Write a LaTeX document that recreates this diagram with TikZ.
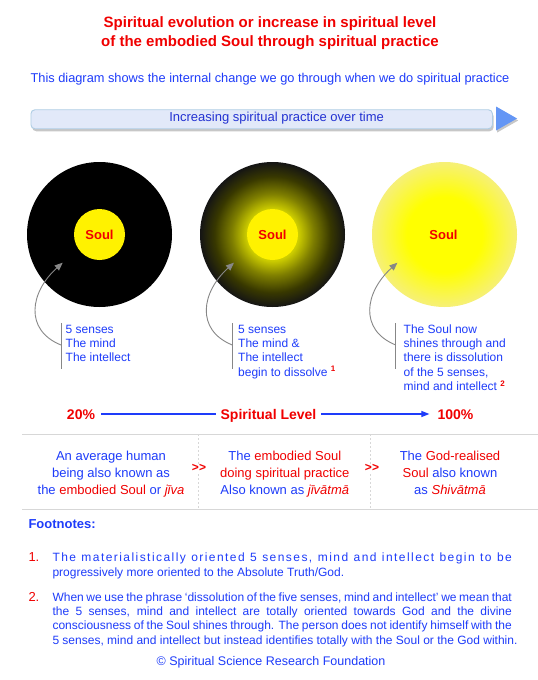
\documentclass[tikz,border=0pt]{standalone}
\usepackage{fontspec}
\setmainfont{Liberation Sans}
\usetikzlibrary{shadows,arrows.meta}
\definecolor{tblue}{RGB}{30,60,250}
\definecolor{tred}{RGB}{240,0,0}
\definecolor{bartxt}{RGB}{35,50,210}
\definecolor{barfill}{RGB}{226,233,249}
\definecolor{barline}{RGB}{175,205,228}
\definecolor{trifill}{RGB}{100,150,245}
\definecolor{arrgray}{RGB}{135,135,135}
\definecolor{edgethree}{RGB}{246,240,120}
\definecolor{rulegray}{RGB}{215,215,215}
\pgfdeclareradialshading{dimsoul}{\pgfpoint{0bp}{0bp}}{color(0bp)=(yellow); color(9bp)=(yellow!80!black); color(14bp)=(yellow!50!black); color(20bp)=(yellow!22!black); color(25bp)=(black!92); color(50bp)=(black!92)}
\pgfdeclareradialshading{brightsoul}{\pgfpoint{0bp}{0bp}}{color(0bp)=(yellow); color(13bp)=(yellow); color(25bp)=(edgethree); color(50bp)=(edgethree)}
\tikzset{
  titletext/.style={text=tred, align=center, inner sep=0pt, font=\fontsize{15}{18.4}\selectfont\bfseries},
  subtext/.style={text=tblue, inner sep=0pt, font=\fontsize{12.8}{15}\selectfont},
  barbox/.style={draw=barline, line width=0.9pt, fill=barfill, rounded corners=4pt, inner sep=0pt,
     drop shadow={shadow xshift=1.2pt, shadow yshift=-2.5pt, fill=black, opacity=0.22}},
  bartext/.style={text=bartxt, inner sep=0pt, font=\fontsize{13}{15}\selectfont},
  ring/.style={circle, minimum size=145pt, inner sep=0pt},
  core/.style={circle, fill=yellow, minimum size=51pt, inner sep=0pt, text=tred, font=\fontsize{13}{15}\selectfont\bfseries},
  soultext/.style={text=tred, inner sep=0pt, font=\fontsize{13}{15}\selectfont\bfseries},
  ctext/.style={text=tblue, align=left, inner sep=0pt, anchor=north west, font=\fontsize{12}{14.3}\selectfont},
  vline/.style={draw=arrgray, line width=0.9pt},
  garrow/.style={draw=arrgray, line width=0.9pt, -{Triangle[length=8pt,width=6.5pt]}},
  lvl/.style={text=tred, inner ysep=0pt, text height=10pt, text depth=0pt, font=\fontsize{14}{16}\selectfont\bfseries},
  levelline/.style={draw=tblue, line width=1.1pt},
  hrule/.style={draw=rulegray, line width=1.2pt},
  drule/.style={draw=rulegray, line width=0.8pt, dash pattern=on 2pt off 2pt},
  chev/.style={text=tred, fill=white, inner sep=1pt, font=\fontsize{12}{14}\selectfont\bfseries},
  cell/.style={text=tblue, align=center, inner sep=0pt, anchor=north, font=\fontsize{13}{17.2}\selectfont},
  fnhead/.style={text=tblue, inner sep=0pt, anchor=base west, font=\fontsize{13}{15}\selectfont\bfseries},
  fnnum/.style={text=tred, inner sep=0pt, anchor=base west, font=\fontsize{13}{15}\selectfont},
  fnone/.style={text=tblue, align=left, inner sep=0pt, anchor=north west, font=\fontsize{12}{15}\selectfont},
  fntwo/.style={text=tblue, align=left, inner sep=0pt, anchor=north west, font=\fontsize{12}{14.1}\selectfont},
  copytext/.style={text=tblue, inner sep=0pt, font=\fontsize{12.5}{15}\selectfont},
}
\begin{document}
\begin{tikzpicture}[x=1pt,y=-1pt]
\fill[white] (0,0) rectangle (538,680);
\useasboundingbox (0,0) rectangle (538,680);

% title and subtitle
\node[titletext] (title) at (270,33) {Spiritual evolution or increase in spiritual level\\of the embodied Soul through spiritual practice};
\node[subtext] (sub) at (270,79.5) {This diagram shows the internal change we go through when we do spiritual practice};

% time bar
\node[barbox, anchor=north west, minimum width=461.5pt, minimum height=19pt] (bar) at (30.5,109.3) {};
\node[bartext] (bartxt) at (276.6,118.5) {Increasing spiritual practice over time};
\fill[trifill, drop shadow={shadow xshift=1.2pt, shadow yshift=-2pt, fill=black, opacity=0.22}]
  (496,106.5) -- (517,118.5) -- (496,130.5) -- cycle;

% circles
\node[ring, fill=black] (c1) at (99.5,234.5) {};
\node[core] (s1) at (c1) {Soul};
\node[ring, shading=dimsoul] (c2) at (272.5,234.5) {};
\node[core] (s2) at (c2) {Soul};
\node[ring, shading=brightsoul] (c3) at (444.5,234.5) {};
\node[soultext] (s3) at (443.5,234.5) {Soul};

% labels under circles
\node[ctext] (t1) at (65.5,323) {\strut 5 senses\\The mind\\The intellect};
\node[ctext] (t2) at (238,323) {\strut 5 senses\\The mind \&\\The intellect\\begin to dissolve \textsuperscript{\textcolor{tred}{\bfseries 1}}};
\node[ctext] (t3) at (403.5,323) {\strut The Soul now\\shines through and\\there is dissolution\\of the 5 senses,\\mind and intellect \textsuperscript{\textcolor{tred}{\bfseries 2}}};

\draw[vline] (61,323) -- (61,369);
\draw[vline] (232.3,323) -- (232.3,369);
\draw[vline] (395.7,323) -- (395.7,369);

\coordinate (a1s) at (61,345);
\coordinate (a1e) at (62.7,262.7);
\coordinate (a2s) at (232.3,345);
\coordinate (a2e) at (234,262.7);
\coordinate (a3s) at (395.7,345);
\coordinate (a3e) at (397.4,262.7);
\draw[garrow] (a1s) .. controls (24,330) and (30,292) .. (a1e);
\draw[garrow] (a2s) .. controls (195.3,330) and (201.3,292) .. (a2e);
\draw[garrow] (a3s) .. controls (358.7,330) and (364.7,292) .. (a3e);

% spiritual level
\node[lvl, inner xsep=6pt] (p20) at (81,414) {20\%};
\node[lvl, inner xsep=4.5pt] (sl) at (268.5,414) {Spiritual Level};
\node[lvl, inner xsep=8pt] (p100) at (455.5,414) {100\%};
\draw[levelline] (p20) -- (sl);
\draw[levelline, -{Triangle[length=8pt,width=6pt]}] (sl) -- (p100);

% table
\draw[hrule] (22,434.3) -- (538,434.3);
\draw[hrule] (22,509.3) -- (538,509.3);
\draw[drule] (198,434.3) -- (198,509.3);
\draw[drule] (370.6,434.3) -- (370.6,509.3);

\node[cell] (cell1) at (111,448) {\strut An average human\\being also known as\\the \textcolor{tred}{embodied Soul} or \textcolor{tred}{\itshape jīva}};
\node[cell] (cell2) at (284.8,448) {\strut The \textcolor{tred}{embodied Soul}\\\textcolor{tred}{doing spiritual practice}\\Also known as \textcolor{tred}{\itshape jīvātmā}};
\node[cell] (cell3) at (450,448) {\strut The \textcolor{tred}{God-realised}\\\textcolor{tred}{Soul} also known\\as \textcolor{tred}{\itshape Shivātmā}};
\node[chev] (ch1) at (199,468.3) {>{}>};
\node[chev] (ch2) at (372,468.3) {>{}>};

% footnotes
\node[fnhead] (fnh) at (28.3,528) {Footnotes:};
\node[fnnum] (n1) at (28.3,561) {1.};
\node[fnnum] (n2) at (28.3,601.6) {2.};
\node[fnone] (f1) at (52.3,550.5) {\strut\makebox[459.4pt][s]{\addfontfeature{LetterSpace=12}The materialistically oriented 5 senses, mind and intellect begin to be}\\progressively more oriented to the Absolute Truth/God.};
\node[fntwo] (f2) at (52.3,591.7) {\strut\makebox[459.4pt][s]{When we use the phrase ‘dissolution of the five senses, mind and intellect’ we mean that}\\\makebox[459.4pt][s]{the 5 senses, mind and intellect are totally oriented towards God and the divine}\\\makebox[459.4pt][s]{consciousness of the Soul shines through. The person does not identify himself with the}\\5 senses, mind and intellect but instead identifies totally with the Soul or the God within.};
\node[copytext] (copy) at (271,662.7) {© Spiritual Science Research Foundation};
\end{tikzpicture}
\end{document}
